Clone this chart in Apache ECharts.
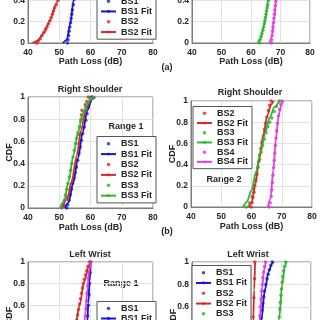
<!DOCTYPE html>
<html>
<head>
<meta charset="utf-8">
<script src="https://cdn.jsdelivr.net/npm/echarts@6/dist/echarts.min.js"></script>
<style>
  html, body { margin: 0; padding: 0; background: #fff; }
  #chart { width: 320px; height: 320px; }
</style>
</head>
<body>
<div id="chart"></div>
<script>
// (a) top row, left / right panel  -- [path loss dB, CDF]
const a1Bs1 = [[52.6, 0], [52.8, 0.03], [53.0, 0.07], [53.2, 0.11], [53.4, 0.15], [53.6, 0.19], [53.8, 0.23], [54.0, 0.27], [54.2, 0.31], [54.5, 0.36], [54.8, 0.41], [55.1, 0.46], [55.5, 0.53], [56.0, 0.62], [56.6, 0.72], [57.3, 0.82], [58.1, 0.91], [59.0, 1]]
const a1Bs1Fit = [[51.2, 0], [52.4, 0.03], [53.5, 0.18], [54.6, 0.4], [55.6, 0.6], [56.8, 0.8], [58.2, 0.95], [59.5, 1]]
const a1Bs2 = [[42.8, 0], [43.3, 0.02], [43.9, 0.04], [44.5, 0.07], [45.1, 0.1], [45.6, 0.13], [46.1, 0.15], [46.6, 0.18], [47.0, 0.21], [47.4, 0.24], [47.8, 0.27], [48.2, 0.3], [48.6, 0.33], [49.1, 0.36], [49.6, 0.4], [50.1, 0.44], [50.6, 0.48], [51.5, 0.58], [52.5, 0.7], [53.5, 0.82], [54.8, 0.93], [56.0, 1]]
const a1Bs2Fit = [[41.5, 0], [43, 0.02], [45, 0.09], [47, 0.21], [49, 0.37], [51, 0.55], [53, 0.74], [55, 0.89], [57, 0.97], [58.5, 1]]

const a2Bs3 = [[62.9, 0], [63.1, 0.03], [63.4, 0.06], [63.7, 0.09], [64.0, 0.12], [64.3, 0.15], [64.5, 0.18], [64.7, 0.21], [64.9, 0.24], [65.1, 0.27], [65.3, 0.3], [65.5, 0.33], [65.7, 0.36], [65.9, 0.4], [66.1, 0.44], [66.4, 0.5], [66.8, 0.6], [67.3, 0.72], [67.9, 0.84], [68.6, 0.94], [69.3, 1]]
const a2Bs3Fit = [[62.3, 0], [63.2, 0.04], [64.5, 0.17], [65.8, 0.4], [67, 0.66], [68.2, 0.86], [69.5, 0.97], [70.5, 1]]
const a2Bs4 = [[66.9, 0], [67.0, 0.03], [67.15, 0.07], [67.3, 0.11], [67.45, 0.15], [67.6, 0.19], [67.75, 0.23], [67.9, 0.27], [68.05, 0.31], [68.25, 0.35], [68.45, 0.39], [68.7, 0.44], [69.0, 0.52], [69.4, 0.63], [69.8, 0.75], [70.3, 0.87], [70.8, 0.96], [71.2, 1]]
const a2Bs4Fit = [[66.3, 0], [67, 0.05], [67.8, 0.22], [68.6, 0.42], [69.5, 0.66], [70.4, 0.86], [71.4, 0.98], [72, 1]]

// (b) Right Shoulder, Range 1 / Range 2
const b1Bs1 = [[52.4, 0], [52.7, 0.03], [53.1, 0.07], [53.5, 0.12], [53.9, 0.17], [54.3, 0.22], [54.7, 0.27], [55.1, 0.32], [55.5, 0.37], [55.9, 0.43], [56.3, 0.49], [56.7, 0.55], [57.1, 0.61], [57.5, 0.67], [58.0, 0.73], [58.5, 0.79], [58.9, 0.85], [59.3, 0.91], [59.8, 0.96], [60.3, 1]]
const b1Bs1Fit = [[51.8, 0], [53, 0.05], [54.5, 0.23], [56, 0.45], [57.5, 0.68], [59, 0.88], [60.5, 0.98], [61.5, 1]]
const b1Bs2 = [[51.6, 0.02], [52.6, 0.1], [53.6, 0.18], [54.4, 0.25], [54.9, 0.31], [55.4, 0.37], [55.8, 0.43], [56.1, 0.5], [56.3, 0.58], [56.5, 0.66], [56.7, 0.73], [57.0, 0.8], [57.1, 0.84], [57.3, 0.88], [58.3, 0.93], [58.8, 0.96], [59.3, 1]]
const b1Bs2Fit = [[51, 0], [52.5, 0.08], [54, 0.24], [55.5, 0.46], [57, 0.7], [58.5, 0.88], [60, 0.97], [61, 1]]
const b1Bs3 = [[50.8, 0], [51.2, 0.03], [51.6, 0.07], [52.0, 0.12], [52.4, 0.17], [52.8, 0.22], [53.2, 0.28], [53.6, 0.34], [54.0, 0.4], [54.4, 0.46], [54.8, 0.52], [55.2, 0.58], [55.6, 0.63], [56.0, 0.68], [56.4, 0.73], [56.8, 0.78], [57.3, 0.83], [57.8, 0.87], [58.4, 0.91], [59.1, 0.95], [59.9, 0.98], [60.8, 1]]
const b1Bs3Fit = [[50.2, 0], [51.5, 0.06], [53, 0.24], [54.5, 0.47], [56, 0.68], [57.5, 0.84], [59, 0.94], [60.5, 0.99], [61.3, 1]]

const b2Bs2 = [[59.9, 0], [60.2, 0.04], [60.5, 0.09], [60.8, 0.14], [61.1, 0.2], [61.4, 0.26], [61.7, 0.31], [62.0, 0.37], [62.4, 0.43], [62.7, 0.49], [63.1, 0.55], [63.5, 0.61], [63.9, 0.67], [64.3, 0.73], [64.7, 0.79], [65.1, 0.85], [65.6, 0.91], [66.0, 0.96], [66.5, 1]]
const b2Bs2Fit = [[59, 0], [60, 0.04], [61.3, 0.22], [62.6, 0.46], [63.9, 0.68], [65.2, 0.86], [66.5, 0.97], [67.3, 1]]
const b2Bs3 = [[58.3, 0], [59.3, 0.04], [60.2, 0.1], [60.8, 0.17], [61.3, 0.24], [61.8, 0.31], [62.2, 0.38], [62.7, 0.45], [63.2, 0.52], [63.7, 0.58], [64.2, 0.64], [64.8, 0.7], [65.4, 0.76], [66.0, 0.8], [66.7, 0.84], [67.5, 0.9], [68.3, 0.95], [69.2, 1]]
const b2Bs3Fit = [[57.2, 0], [58.5, 0.05], [60, 0.16], [61.5, 0.33], [63, 0.52], [64.5, 0.7], [66, 0.84], [67.5, 0.94], [69.2, 1]]
const b2Bs4 = [[65.9, 0], [66.2, 0.04], [66.5, 0.1], [66.7, 0.16], [66.9, 0.23], [67.1, 0.3], [67.3, 0.37], [67.5, 0.44], [67.7, 0.51], [67.9, 0.58], [68.1, 0.65], [68.3, 0.72], [68.6, 0.79], [68.9, 0.86], [69.3, 0.92], [69.7, 0.97], [70.1, 1]]
const b2Bs4Fit = [[65.4, 0], [66.3, 0.08], [67.2, 0.35], [68.1, 0.65], [69, 0.87], [70, 0.98], [70.6, 1]]

// (c) Left Wrist
const c1Bs1 = [[58.5, 0.05], [58.7, 0.2], [58.9, 0.35], [59.1, 0.5], [59.3, 0.6], [59.5, 0.7], [59.7, 0.8], [59.9, 0.9], [60.1, 1]]
const c1Bs1Fit = [[58.3, 0], [58.7, 0.25], [59, 0.45], [59.3, 0.62], [59.7, 0.82], [60.1, 1]]
const c1Bs2 = [[51.5, 0], [52.5, 0.08], [53.3, 0.16], [54.0, 0.25], [54.6, 0.33], [55.1, 0.4], [55.6, 0.46], [55.9, 0.51], [56.2, 0.56], [56.5, 0.61], [56.8, 0.66], [57.1, 0.71], [57.4, 0.76], [57.7, 0.8], [58.0, 0.84], [58.4, 0.88], [58.8, 0.92], [59.2, 0.96], [59.7, 1]]
const c1Bs2Fit = [[51, 0], [53, 0.14], [55, 0.39], [56.5, 0.6], [58, 0.82], [59.5, 0.97], [60.3, 1]]
const c1Bs4 = [[57.0, 0], [57.4, 0.15], [57.8, 0.3], [58.1, 0.42], [58.3, 0.5], [58.5, 0.57], [58.7, 0.64], [58.9, 0.71], [59.1, 0.78], [59.3, 0.85], [59.5, 0.9], [59.7, 0.95], [60.0, 1]]
const c1Bs4Fit = [[56.8, 0], [57.6, 0.25], [58.3, 0.5], [59, 0.75], [59.6, 0.92], [60.2, 1]]

const c2Bs1 = [[61.5, 0], [62.2, 0.15], [62.7, 0.3], [63.0, 0.42], [63.2, 0.5], [63.5, 0.57], [63.8, 0.63], [64.1, 0.69], [64.4, 0.74], [64.8, 0.8], [65.2, 0.85], [65.6, 0.89], [66.0, 0.93], [66.5, 0.97], [67.0, 1]]
const c2Bs1Fit = [[61.2, 0], [62.3, 0.2], [63.3, 0.48], [64.5, 0.75], [65.7, 0.91], [67, 0.99], [67.5, 1]]
const c2Bs2 = [[60.2, 0.05], [60.4, 0.2], [60.5, 0.35], [60.6, 0.51], [60.8, 0.68], [61.0, 0.85], [61.1, 1]]
const c2Bs2Fit = [[60, 0], [60.3, 0.2], [60.6, 0.5], [60.9, 0.75], [61.2, 1]]
const c2Bs3 = [[67.5, 0], [68.2, 0.15], [68.8, 0.32], [69.1, 0.44], [69.3, 0.51], [69.5, 0.58], [69.7, 0.64], [69.9, 0.7], [70.1, 0.76], [70.3, 0.82], [70.5, 0.87], [70.8, 0.92], [71.1, 0.96], [71.5, 1]]
const c2Bs3Fit = [[67.2, 0], [68.3, 0.2], [69.3, 0.5], [70.3, 0.8], [71.2, 0.96], [71.7, 1]]
const c2Bs4 = [[61.5, 0], [61.9, 0.15], [62.3, 0.32], [62.6, 0.45], [62.8, 0.52], [63.0, 0.6], [63.2, 0.67], [63.4, 0.74], [63.6, 0.8], [63.8, 0.86], [64.1, 0.91], [64.4, 0.96], [64.7, 1]]
const c2Bs4Fit = [[61.3, 0], [62, 0.2], [62.8, 0.5], [63.6, 0.78], [64.3, 0.94], [64.8, 1]]

const xTicks = { min: 40, max: 80, interval: 10 }
const yTicks = { min: 0, max: 1, interval: 0.2 }

const FONT = '"Liberation Sans", Arial, sans-serif'
const TEXT = '#262626'
const DOT_COLORS = { BS1: '#1f1fc4', BS2: '#dc2323', BS3: '#26b026', BS4: '#e030e0' }
const FIT_COLORS = { BS1: '#1414d2', BS2: '#d42a2a', BS3: '#33b333', BS4: '#e03ee0' }

const panels = [
  { grid: { left: 28, top: -63.5, width: 125, height: 106.5 }, xGap: 14, yGap: 14,
    curves: [['BS1', a1Bs1, a1Bs1Fit], ['BS2', a1Bs2, a1Bs2Fit]] },
  { grid: { left: 192, top: -63.5, width: 118, height: 106.5 }, xGap: 14, yGap: 14,
    curves: [['BS3', a2Bs3, a2Bs3Fit], ['BS4', a2Bs4, a2Bs4Fit]] },
  { grid: { left: 28, top: 97, width: 125, height: 111 }, xGap: 15, yGap: 14,
    curves: [['BS1', b1Bs1, b1Bs1Fit], ['BS2', b1Bs2, b1Bs2Fit], ['BS3', b1Bs3, b1Bs3Fit]] },
  { grid: { left: 191, top: 101, width: 121, height: 106 }, xGap: 15, yGap: 14,
    curves: [['BS2', b2Bs2, b2Bs2Fit], ['BS3', b2Bs3, b2Bs3Fit], ['BS4', b2Bs4, b2Bs4Fit]] },
  { grid: { left: 28, top: 262, width: 125, height: 108 }, xGap: 15, yGap: 14,
    curves: [['BS1', c1Bs1, c1Bs1Fit], ['BS2', c1Bs2, c1Bs2Fit], ['BS4', c1Bs4, c1Bs4Fit]] },
  { grid: { left: 192, top: 262, width: 119, height: 112 }, xGap: 15, yGap: 14,
    curves: [['BS1', c2Bs1, c2Bs1Fit], ['BS2', c2Bs2, c2Bs2Fit], ['BS3', c2Bs3, c2Bs3Fit], ['BS4', c2Bs4, c2Bs4Fit]] }
]

const legends = [
  { left: 97, top: -6, lineHeight: 10.3, names: ['BS1', 'BS2'] },
  { left: 97, top: 136.5, lineHeight: 10.4, names: ['BS1', 'BS2', 'BS3'] },
  { left: 193, top: 106.5, lineHeight: 9.7, names: ['BS2', 'BS3', 'BS4'] },
  { left: 97, top: 301.5, lineHeight: 10, names: ['BS1', 'BS2', 'BS4'] },
  { left: 192, top: 265.5, lineHeight: 10.3, names: ['BS1', 'BS2', 'BS3', 'BS4'] }
]

const notes = [
  { text: '(a)', x: 167, y: 68 },
  { text: 'Right Shoulder', x: 90, y: 90 },
  { text: 'Right Shoulder', x: 250, y: 93 },
  { text: 'Range 1', x: 126, y: 127 },
  { text: 'Range 2', x: 224, y: 180 },
  { text: '(b)', x: 167, y: 232 },
  { text: 'Left Wrist', x: 90, y: 255 },
  { text: 'Left Wrist', x: 248, y: 255 },
  { text: 'Range 1', x: 121, y: 284 }
]

const labelStyle = { color: TEXT, fontSize: 8.5, fontWeight: 'bold', fontFamily: FONT }
const nameStyle = { color: TEXT, fontSize: 9, fontWeight: 'bold', fontFamily: FONT }

const chart = echarts.init(document.getElementById('chart'), null, { renderer: 'canvas' })

const grids = panels.map(p => ({
  ...p.grid,
  show: true,
  borderColor: '#7c7c7c',
  borderWidth: 1,
  backgroundColor: '#fff',
  containLabel: false,
  outerBoundsMode: 'none'
}))

const xAxes = panels.map((p, i) => ({
  type: 'value',
  gridIndex: i,
  ...xTicks,
  name: 'Path Loss (dB)',
  nameLocation: 'middle',
  nameGap: p.xGap,
  nameMoveOverlap: false,
  nameTextStyle: nameStyle,
  axisLabel: { ...labelStyle, margin: 5 },
  axisTick: { show: false },
  axisLine: { lineStyle: { color: '#7c7c7c', width: 1 } },
  splitLine: { lineStyle: { color: '#e2e2e2', width: 1 } }
}))

const yAxes = panels.map((p, i) => ({
  type: 'value',
  gridIndex: i,
  ...yTicks,
  name: 'CDF',
  nameLocation: 'middle',
  nameRotate: 90,
  nameGap: p.yGap,
  nameMoveOverlap: false,
  nameTextStyle: nameStyle,
  axisLabel: { ...labelStyle, margin: 3 },
  axisTick: { show: false },
  axisLine: { lineStyle: { color: '#7c7c7c', width: 1 } },
  splitLine: { lineStyle: { color: '#e2e2e2', width: 1 } }
}))

const series = []
panels.forEach((p, i) => {
  p.curves.forEach(([name, dots, fit]) => {
    series.push({
      name,
      type: 'scatter',
      xAxisIndex: i,
      yAxisIndex: i,
      data: dots,
      symbolSize: 3.5,
      itemStyle: { color: DOT_COLORS[name] },
      silent: true
    })
    series.push({
      name: name + ' Fit',
      type: 'line',
      xAxisIndex: i,
      yAxisIndex: i,
      data: fit,
      smooth: 0.3,
      smoothMonotone: 'x',
      symbol: 'none',
      lineStyle: { color: FIT_COLORS[name], width: 1.8 },
      itemStyle: { color: FIT_COLORS[name] },
      silent: true
    })
  })
})

// legends are tall boxes that run past the page edge, so give them room to avoid wrapping
const legend = legends.map(l => ({
  orient: 'vertical',
  left: l.left,
  top: l.top,
  width: 80,
  height: 200,
  data: l.names.flatMap(n => [n, n + ' Fit']),
  itemWidth: 15,
  itemHeight: 3.5,
  itemGap: 0,
  padding: [2, 4, 2, 3],
  borderColor: '#555',
  borderWidth: 1,
  backgroundColor: '#fff',
  selectedMode: false,
  textStyle: { ...nameStyle, lineHeight: l.lineHeight }
}))

const graphic = notes.map(n => ({
  type: 'text',
  x: n.x,
  y: n.y,
  style: {
    text: n.text,
    fill: TEXT,
    font: 'bold 9px ' + FONT,
    align: 'center',
    verticalAlign: 'middle'
  }
}))

chart.setOption({
  animation: false,
  grid: grids,
  xAxis: xAxes,
  yAxis: yAxes,
  legend,
  series,
  graphic
})
</script>
</body>
</html>
